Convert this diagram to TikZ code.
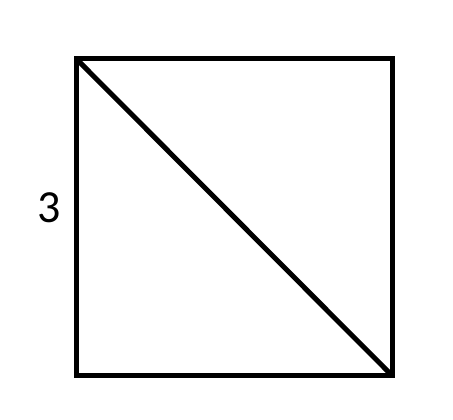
\documentclass[tikz,border=0pt]{standalone}
\usepackage{fontspec}
\setmainfont{Carlito}
\begin{document}
\begin{tikzpicture}[x=1pt,y=1pt,edge/.style={line width=5pt,line join=miter}]
\useasboundingbox (0,0) rectangle (453,420);
\coordinate (tl) at (76,361.5);
\coordinate (tr) at (392.5,361.5);
\coordinate (br) at (392.5,44);
\coordinate (bl) at (76,44);
\draw[edge] (tl) -- (tr) -- (br) -- (bl) -- cycle;
\draw[edge] (tl) -- (br);
\node[font=\fontsize{46}{50}\selectfont,inner sep=0pt] (lab) at (49.5,212) {3};
\end{tikzpicture}
\end{document}
